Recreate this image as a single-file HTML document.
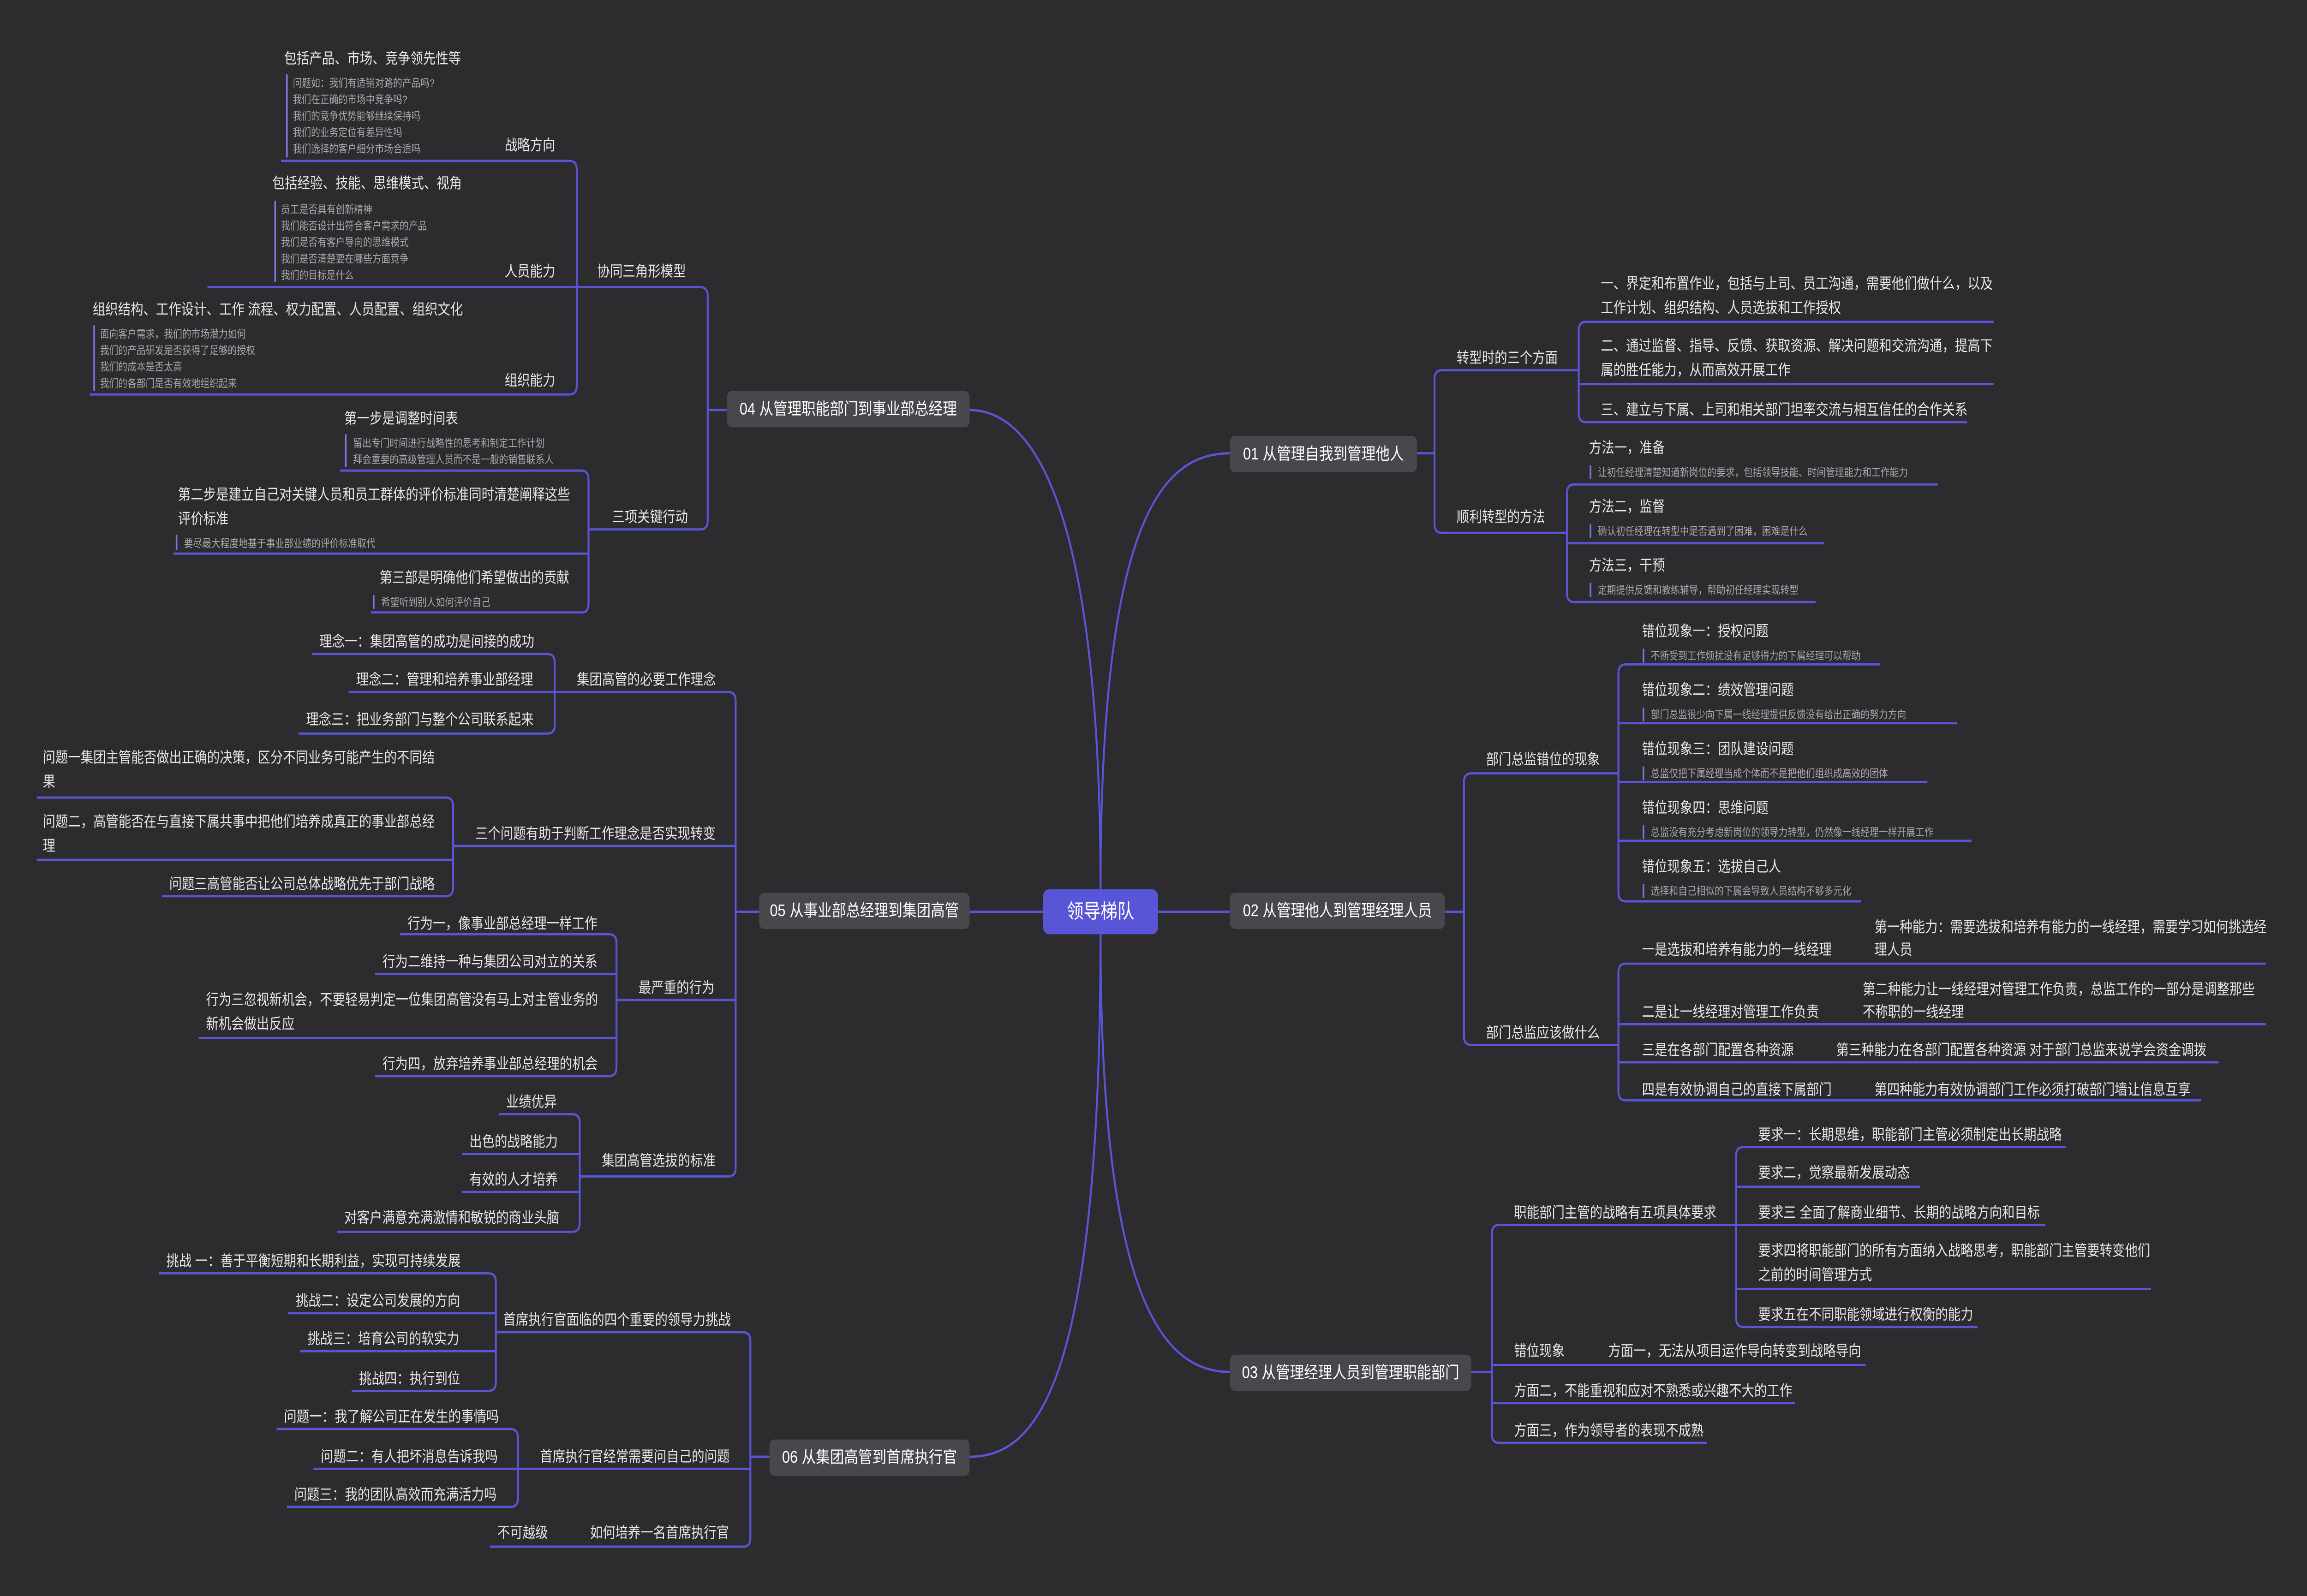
<!DOCTYPE html>
<html><head><meta charset="utf-8">
<style>
html,body{margin:0;padding:0;background:#2c2c2e;width:5000px;height:3460px;overflow:hidden;}
svg{display:block;width:5000px;height:3460px;}
.l{stroke:#5a55d6;fill:none;stroke-width:1.3;}
.b{stroke:#7a77de;stroke-width:1.1;}
text{font-family:"Liberation Sans","Noto Sans CJK SC",sans-serif;dominant-baseline:central;}
.t{fill:#e8e8ea;font-size:8.6px;}
.n{fill:#a9a9ae;font-size:6.2px;}
.bt{fill:#ffffff;font-size:9.6px;text-anchor:middle;}
</style></head>
<body>
<svg width="5000" height="3460" viewBox="0 0 1568 922.5" preserveAspectRatio="none" xmlns="http://www.w3.org/2000/svg">
<rect x="0" y="0" width="1568" height="923" fill="#2c2c2e"/>

<path class="l" d="M748,514 C748,300 790,262 836,262"/>
<path class="l" d="M748,514 C748,300 705,237 659,237"/>
<path class="l" d="M748,540 C748,750 790,793 836,793"/>
<path class="l" d="M748,540 C748,800 705,842 659,842"/>
<path class="l" d="M787,527 H836 M709,527 H659"/>

<rect x="709" y="514" width="78" height="26" rx="4" fill="#5856d6"/>
<text x="748" y="527" class="bt" style="font-size:11.5px">领导梯队</text>

<rect x="836" y="252" width="127" height="21" rx="3.5" fill="#48484c"/>
<text x="899.5" y="262.5" class="bt">01 从管理自我到管理他人</text>
<rect x="836" y="516" width="146" height="21" rx="3.5" fill="#48484c"/>
<text x="909" y="526.5" class="bt">02 从管理他人到管理经理人员</text>
<rect x="836" y="783" width="164" height="21" rx="3.5" fill="#48484c"/>
<text x="918" y="793.5" class="bt">03 从管理经理人员到管理职能部门</text>
<rect x="494" y="226" width="165" height="21" rx="3.5" fill="#48484c"/>
<text x="576.5" y="236.5" class="bt">04 从管理职能部门到事业部总经理</text>
<rect x="516" y="516" width="143" height="21" rx="3.5" fill="#48484c"/>
<text x="587.5" y="526.5" class="bt">05 从事业部总经理到集团高管</text>
<rect x="523" y="832" width="136" height="21" rx="3.5" fill="#48484c"/>
<text x="591" y="842.5" class="bt">06 从集团高管到首席执行官</text>

<path class="l" d="M963,262 H975"/>
<path class="l" d="M980,214 Q975,214 975,219 V303 Q975,308 980,308"/>
<path class="l" d="M980,214 H1073 M980,308 H1065"/>
<text x="990" y="207" class="t">转型时的三个方面</text>
<text x="990" y="299" class="t">顺利转型的方法</text>
<path class="l" d="M1078,186 Q1073,186 1073,191 V239 Q1073,244 1078,244"/>
<path class="l" d="M1078,186 H1355 M1073,222 H1355 M1078,244 H1337"/>
<text x="1088" y="164" class="t">一、界定和布置作业，包括与上司、员工沟通，需要他们做什么，以及</text>
<text x="1088" y="178" class="t">工作计划、组织结构、人员选拔和工作授权</text>
<text x="1088" y="200" class="t">二、通过监督、指导、反馈、获取资源、解决问题和交流沟通，提高下</text>
<text x="1088" y="214" class="t">属的胜任能力，从而高效开展工作</text>
<text x="1088" y="237" class="t">三、建立与下属、上司和相关部门坦率交流与相互信任的合作关系</text>
<path class="l" d="M1070,280 Q1065,280 1065,285 V343 Q1065,348 1070,348"/>
<path class="l" d="M1070,280 H1317 M1065,314 H1240 M1070,348 H1234"/>
<text x="1080" y="259" class="t">方法一，准备</text>
<line class="b" x1="1081" y1="269" x2="1081" y2="277"/>
<text x="1086" y="273" class="n">让初任经理清楚知道新岗位的要求，包括领导技能、时间管理能力和工作能力</text>
<text x="1080" y="293" class="t">方法二，监督</text>
<line class="b" x1="1081" y1="303" x2="1081" y2="311"/>
<text x="1086" y="307" class="n">确认初任经理在转型中是否遇到了困难，困难是什么</text>
<text x="1080" y="327" class="t">方法三，干预</text>
<line class="b" x1="1081" y1="337" x2="1081" y2="345"/>
<text x="1086" y="341" class="n">定期提供反馈和教练辅导，帮助初任经理实现转型</text>

<path class="l" d="M982,527 H995"/>
<path class="l" d="M1000,447 Q995,447 995,452 V599 Q995,604 1000,604"/>
<path class="l" d="M1000,447 H1100 M1000,604 H1100"/>
<text x="1010" y="439" class="t">部门总监错位的现象</text>
<text x="1010" y="597" class="t">部门总监应该做什么</text>
<path class="l" d="M1105,384 Q1100,384 1100,389 V516 Q1100,521 1105,521"/>
<path class="l" d="M1105,384 H1278 M1100,418 H1330 M1100,452 H1310 M1100,486 H1340 M1105,521 H1265"/>
<text x="1116" y="365" class="t">错位现象一：授权问题</text>
<line class="b" x1="1117" y1="375" x2="1117" y2="383"/>
<text x="1122" y="379" class="n">不断受到工作烦扰没有足够得力的下属经理可以帮助</text>
<text x="1116" y="399" class="t">错位现象二：绩效管理问题</text>
<line class="b" x1="1117" y1="409" x2="1117" y2="417"/>
<text x="1122" y="413" class="n">部门总监很少向下属一线经理提供反馈没有给出正确的努力方向</text>
<text x="1116" y="433" class="t">错位现象三：团队建设问题</text>
<line class="b" x1="1117" y1="443" x2="1117" y2="451"/>
<text x="1122" y="447" class="n">总监仅把下属经理当成个体而不是把他们组织成高效的团体</text>
<text x="1116" y="467" class="t">错位现象四：思维问题</text>
<line class="b" x1="1117" y1="477" x2="1117" y2="485"/>
<text x="1122" y="481" class="n">总监没有充分考虑新岗位的领导力转型，仍然像一线经理一样开展工作</text>
<text x="1116" y="501" class="t">错位现象五：选拔自己人</text>
<line class="b" x1="1117" y1="511" x2="1117" y2="519"/>
<text x="1122" y="515" class="n">选择和自己相似的下属会导致人员结构不够多元化</text>

<path class="l" d="M1105,557 Q1100,557 1100,562 V631 Q1100,636 1105,636"/>
<path class="l" d="M1105,557 H1540 M1100,592 H1540 M1100,614 H1508 M1105,636 H1496"/>
<text x="1116" y="549" class="t">一是选拔和培养有能力的一线经理</text>
<text x="1274" y="536" class="t">第一种能力：需要选拔和培养有能力的一线经理，需要学习如何挑选经</text>
<text x="1274" y="549" class="t">理人员</text>
<text x="1116" y="585" class="t">二是让一线经理对管理工作负责</text>
<text x="1266" y="572" class="t">第二种能力让一线经理对管理工作负责，总监工作的一部分是调整那些</text>
<text x="1266" y="585" class="t">不称职的一线经理</text>
<text x="1116" y="607" class="t">三是在各部门配置各种资源</text>
<text x="1248" y="607" class="t">第三种能力在各部门配置各种资源 对于部门总监来说学会资金调拨</text>
<text x="1116" y="630" class="t">四是有效协调自己的直接下属部门</text>
<text x="1274" y="630" class="t">第四种能力有效协调部门工作必须打破部门墙让信息互享</text>

<path class="l" d="M1000,793 H1014"/>
<path class="l" d="M1019,708 Q1014,708 1014,713 V829 Q1014,834 1019,834"/>
<path class="l" d="M1019,708 H1180 M1014,789 H1268 M1014,811 H1220 M1019,834 H1160"/>
<text x="1029" y="701" class="t">职能部门主管的战略有五项具体要求</text>
<text x="1029" y="781" class="t">错位现象</text>
<text x="1093" y="781" class="t">方面一，无法从项目运作导向转变到战略导向</text>
<text x="1029" y="804" class="t">方面二，不能重视和应对不熟悉或兴趣不大的工作</text>
<text x="1029" y="827" class="t">方面三，作为领导者的表现不成熟</text>
<path class="l" d="M1185,663 Q1180,663 1180,668 V762 Q1180,767 1185,767"/>
<path class="l" d="M1185,663 H1404 M1180,686 H1305 M1180,708 H1390 M1180,745 H1462 M1185,767 H1344"/>
<text x="1195" y="656" class="t">要求一：长期思维，职能部门主管必须制定出长期战略</text>
<text x="1195" y="678" class="t">要求二，觉察最新发展动态</text>
<text x="1195" y="701" class="t">要求三 全面了解商业细节、长期的战略方向和目标</text>
<text x="1195" y="723" class="t">要求四将职能部门的所有方面纳入战略思考，职能部门主管要转变他们</text>
<text x="1195" y="737" class="t">之前的时间管理方式</text>
<text x="1195" y="760" class="t">要求五在不同职能领域进行权衡的能力</text>

<path class="l" d="M494,237 H481"/>
<path class="l" d="M476,166 Q481,166 481,171 V301 Q481,306 476,306"/>
<path class="l" d="M476,166 H141 M476,306 H400"/>
<text x="406" y="157" class="t">协同三角形模型</text>
<text x="416" y="299" class="t">三项关键行动</text>
<path class="l" d="M387,93 Q392,93 392,98 V223 Q392,228 387,228"/>
<path class="l" d="M387,93 H191 M387,228 H61"/>
<text x="343" y="84" class="t">战略方向</text>
<text x="343" y="157" class="t">人员能力</text>
<text x="343" y="220" class="t">组织能力</text>
<text x="193" y="34" class="t">包括产品、市场、竞争领先性等</text>
<line class="b" x1="195" y1="43" x2="195" y2="91"/>
<text x="199" y="48" class="n">问题如：我们有适销对路的产品吗?</text>
<text x="199" y="57.5" class="n">我们在正确的市场中竞争吗?</text>
<text x="199" y="67" class="n">我们的竞争优势能够继续保持吗</text>
<text x="199" y="76.5" class="n">我们的业务定位有差异性吗</text>
<text x="199" y="86" class="n">我们选择的客户细分市场合适吗</text>
<text x="185" y="106" class="t">包括经验、技能、思维模式、视角</text>
<line class="b" x1="187" y1="116" x2="187" y2="163"/>
<text x="191" y="121" class="n">员工是否具有创新精神</text>
<text x="191" y="130.5" class="n">我们能否设计出符合客户需求的产品</text>
<text x="191" y="140" class="n">我们是否有客户导向的思维模式</text>
<text x="191" y="149.5" class="n">我们是否清楚要在哪些方面竞争</text>
<text x="191" y="159" class="n">我们的目标是什么</text>
<text x="63" y="179" class="t">组织结构、工作设计、工作 流程、权力配置、人员配置、组织文化</text>
<line class="b" x1="64" y1="188" x2="64" y2="226"/>
<text x="68" y="193" class="n">面向客户需求，我们的市场潜力如何</text>
<text x="68" y="202.5" class="n">我们的产品研发是否获得了足够的授权</text>
<text x="68" y="212" class="n">我们的成本是否太高</text>
<text x="68" y="221.5" class="n">我们的各部门是否有效地组织起来</text>

<path class="l" d="M395,272 Q400,272 400,277 V349 Q400,354 395,354"/>
<path class="l" d="M395,272 H231 M400,320 H118 M395,354 H252"/>
<text x="234" y="242" class="t">第一步是调整时间表</text>
<line class="b" x1="235" y1="251" x2="235" y2="270"/>
<text x="240" y="256" class="n">留出专门时间进行战略性的思考和制定工作计划</text>
<text x="240" y="265.5" class="n">拜会重要的高级管理人员而不是一般的销售联系人</text>
<text x="121" y="286" class="t">第二步是建立自己对关键人员和员工群体的评价标准同时清楚阐释这些</text>
<text x="121" y="300" class="t">评价标准</text>
<line class="b" x1="120" y1="309" x2="120" y2="318"/>
<text x="125" y="314" class="n">要尽最大程度地基于事业部业绩的评价标准取代</text>
<text x="258" y="334" class="t">第三部是明确他们希望做出的贡献</text>
<line class="b" x1="254" y1="344" x2="254" y2="352"/>
<text x="259" y="348" class="n">希望听到别人如何评价自己</text>

<path class="l" d="M516,527 H500"/>
<path class="l" d="M495,400 Q500,400 500,405 V675 Q500,680 495,680"/>
<path class="l" d="M495,400 H377 M500,489 H308 M500,578 H419 M495,680 H394"/>
<text x="392" y="393" class="t">集团高管的必要工作理念</text>
<text x="323" y="482" class="t">三个问题有助于判断工作理念是否实现转变</text>
<text x="434" y="571" class="t">最严重的行为</text>
<text x="409" y="671" class="t">集团高管选拔的标准</text>
<path class="l" d="M372,378 Q377,378 377,383 V419 Q377,424 372,424"/>
<path class="l" d="M372,378 H212 M377,400 H237 M372,424 H203"/>
<text x="217" y="371" class="t">理念一：集团高管的成功是间接的成功</text>
<text x="242" y="393" class="t">理念二：管理和培养事业部经理</text>
<text x="208" y="416" class="t">理念三：把业务部门与整个公司联系起来</text>
<path class="l" d="M303,461 Q308,461 308,466 V513 Q308,518 303,518"/>
<path class="l" d="M303,461 H25 M308,497 H25 M303,518 H110"/>
<text x="29" y="438" class="t">问题一集团主管能否做出正确的决策，区分不同业务可能产生的不同结</text>
<text x="29" y="452" class="t">果</text>
<text x="29" y="475" class="t">问题二，高管能否在与直接下属共事中把他们培养成真正的事业部总经</text>
<text x="29" y="489" class="t">理</text>
<text x="115" y="511" class="t">问题三高管能否让公司总体战略优先于部门战略</text>
<path class="l" d="M414,540 Q419,540 419,545 V617 Q419,622 414,622"/>
<path class="l" d="M414,540 H272 M419,563 H255 M419,600 H135 M414,622 H255"/>
<text x="277" y="534" class="t">行为一，像事业部总经理一样工作</text>
<text x="260" y="556" class="t">行为二维持一种与集团公司对立的关系</text>
<text x="140" y="578" class="t">行为三忽视新机会，不要轻易判定一位集团高管没有马上对主管业务的</text>
<text x="140" y="592" class="t">新机会做出反应</text>
<text x="260" y="615" class="t">行为四，放弃培养事业部总经理的机会</text>
<path class="l" d="M389,644 Q394,644 394,649 V707 Q394,712 389,712"/>
<path class="l" d="M389,644 H339 M394,667 H314 M394,689 H314 M389,712 H229"/>
<text x="344" y="637" class="t">业绩优异</text>
<text x="319" y="660" class="t">出色的战略能力</text>
<text x="319" y="682" class="t">有效的人才培养</text>
<text x="234" y="704" class="t">对客户满意充满激情和敏锐的商业头脑</text>

<path class="l" d="M523,842 H510"/>
<path class="l" d="M505,770 Q510,770 510,775 V889 Q510,894 505,894"/>
<path class="l" d="M505,770 H337 M510,849 H352 M505,894 H333"/>
<text x="342" y="763" class="t">首席执行官面临的四个重要的领导力挑战</text>
<text x="367" y="842" class="t">首席执行官经常需要问自己的问题</text>
<text x="401" y="886" class="t">如何培养一名首席执行官</text>
<text x="338" y="886" class="t">不可越级</text>
<path class="l" d="M332,736 Q337,736 337,741 V799 Q337,804 332,804"/>
<path class="l" d="M332,736 H108 M337,759 H196 M337,781 H204 M332,804 H239"/>
<text x="113" y="729" class="t">挑战 一：善于平衡短期和长期利益，实现可持续发展</text>
<text x="201" y="752" class="t">挑战二：设定公司发展的方向</text>
<text x="209" y="774" class="t">挑战三：培育公司的软实力</text>
<text x="244" y="797" class="t">挑战四：执行到位</text>
<path class="l" d="M347,826 Q352,826 352,831 V866 Q352,871 347,871"/>
<path class="l" d="M347,826 H188 M352,849 H213 M347,871 H195"/>
<text x="193" y="819" class="t">问题一：我了解公司正在发生的事情吗</text>
<text x="218" y="842" class="t">问题二：有人把坏消息告诉我吗</text>
<text x="200" y="864" class="t">问题三：我的团队高效而充满活力吗</text>
</svg>
</body></html>
